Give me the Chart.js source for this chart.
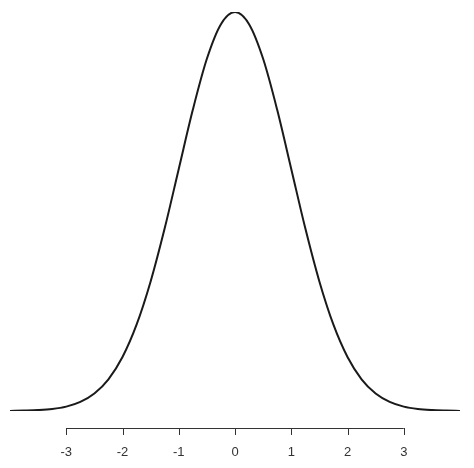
<!DOCTYPE html>
<html>
<head>
<meta charset="utf-8">
<script src="https://cdn.jsdelivr.net/npm/chart.js@4"></script>
<style>
  html, body { margin: 0; padding: 0; background: #fff; }
  #wrap { width: 474px; height: 468px; }
</style>
</head>
<body>
<div id="wrap"><canvas id="chart"></canvas></div>
<script>
// values
const xs = [-4, -3.75, -3.5, -3.25, -3, -2.75, -2.5, -2.25, -2, -1.75, -1.5, -1.25, -1, -0.75, -0.5, -0.25,
  0, 0.25, 0.5, 0.75, 1, 1.25, 1.5, 1.75, 2, 2.25, 2.5, 2.75, 3, 3.25, 3.5, 3.75, 4];
const density = [0.0001, 0.0004, 0.0009, 0.002, 0.0044, 0.0091, 0.0175, 0.0317, 0.054, 0.0863, 0.1295, 0.1826, 0.242, 0.3011, 0.3521, 0.3867,
  0.3989, 0.3867, 0.3521, 0.3011, 0.242, 0.1826, 0.1295, 0.0863, 0.054, 0.0317, 0.0175, 0.0091, 0.0044, 0.002, 0.0009, 0.0004, 0.0001];
const tickValues = [-3, -2, -1, 0, 1, 2, 3];

// R style axis: line only from first to last tick
const rAxis = {
  id: 'rAxis',
  afterDraw(c) {
    const ctx = c.ctx, sx = c.scales.x;
    const y0 = 428;
    ctx.save();
    ctx.strokeStyle = '#333';
    ctx.lineWidth = 1;
    ctx.beginPath();
    ctx.moveTo(sx.getPixelForValue(tickValues[0]), y0 + 0.5);
    ctx.lineTo(sx.getPixelForValue(tickValues[tickValues.length - 1]), y0 + 0.5);
    tickValues.forEach(v => {
      const px = Math.round(sx.getPixelForValue(v)) + 0.5;
      ctx.moveTo(px, y0);
      ctx.lineTo(px, y0 + 7);
    });
    ctx.stroke();
    ctx.fillStyle = '#333';
    ctx.font = '13px "Liberation Sans", Arial, sans-serif';
    ctx.textAlign = 'center';
    ctx.textBaseline = 'middle';
    tickValues.forEach(v => ctx.fillText(String(v), sx.getPixelForValue(v), y0 + 24));
    ctx.restore();
  }
};

new Chart(document.getElementById('chart'), {
  type: 'line',
  data: {
    datasets: [{
      data: xs.map((x, i) => ({ x, y: density[i] })),
      borderColor: '#1a1a1a',
      borderWidth: 2,
      pointRadius: 0,
      cubicInterpolationMode: 'monotone',
      fill: false
    }]
  },
  options: {
    responsive: true,
    maintainAspectRatio: false,
    animation: false,
    layout: { padding: { left: 10, right: 14, top: 12, bottom: 57 } },
    plugins: { legend: { display: false }, tooltip: { enabled: false } },
    scales: {
      x: { type: 'linear', min: -4, max: 4, display: false },
      y: { min: 0, max: 0.3989, display: false }
    }
  },
  plugins: [rAxis]
});
</script>
</body>
</html>
